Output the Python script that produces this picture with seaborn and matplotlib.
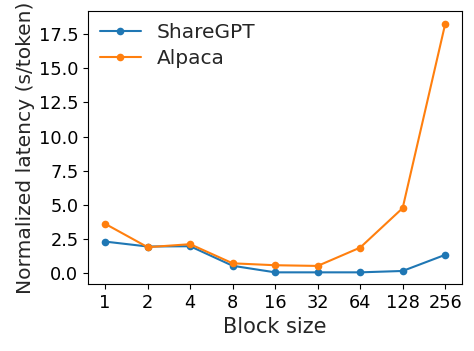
import pandas as pd
import numpy as np
import matplotlib
matplotlib.use("Agg")
import matplotlib.pyplot as plt
import seaborn as sns

# Tamanhos de bloco (eixo categórico)
block_sizes = ['1', '2', '4', '8', '16', '32', '64', '128', '256']
sharegpt = [2.32, 1.96, 1.98, 0.55, 0.07, 0.07, 0.07, 0.17, 1.35]
alpaca = [3.62, 1.91, 2.13, 0.73, 0.59, 0.54, 1.88, 4.77, 18.23]

df = pd.DataFrame({
    'pos': list(range(len(block_sizes))) * 2,
    'latency': sharegpt + alpaca,
    'dataset': ['ShareGPT'] * len(block_sizes) + ['Alpaca'] * len(block_sizes),
})

sns.set_style("ticks")
plt.rcParams['font.family'] = ['DejaVu Sans']

fig, ax = plt.subplots(figsize=(4.74, 3.51), dpi=100)
sns.lineplot(data=df, x='pos', y='latency', hue='dataset', palette=['#1f77b4', '#ff7f0e'],
             marker='o', markersize=5.5, markeredgewidth=0, linewidth=1.5, ax=ax)

ax.set_xticks(range(len(block_sizes)))
ax.set_xticklabels(block_sizes)
ax.set_yticks(np.arange(0, 18, 2.5))
ax.tick_params(labelsize=12.8, colors='black')
ax.set_xlabel('Block size', fontsize=15)
ax.set_ylabel('Normalized latency (s/token)', fontsize=14.6, labelpad=3)
ax.set_xlim(-0.4, 8.4)
ax.set_ylim(-0.78, 19.2)
for s in ax.spines.values():
    s.set_color('black')

leg = ax.legend(loc='upper left', frameon=False, fontsize=14.5, handlelength=2.0,
                borderaxespad=0.2, labelspacing=0.35)

plt.subplots_adjust(left=0.186, right=0.975, top=0.969, bottom=0.191)
plt.savefig('out.png', dpi=100)
